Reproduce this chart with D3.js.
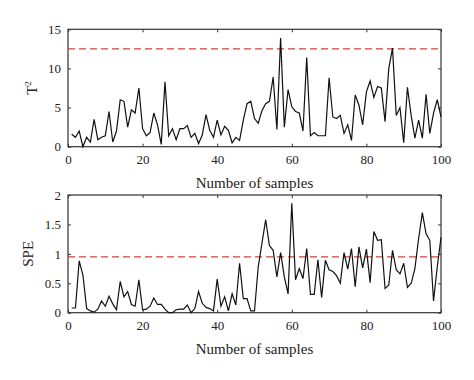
<!DOCTYPE html>
<html>
<head>
<meta charset="utf-8">
<script src="https://cdn.jsdelivr.net/npm/d3@7"></script>
<style>
  html, body { margin: 0; padding: 0; background: #fff; }
  svg { display: block; }
  text { font-family: "Liberation Serif", "DejaVu Serif", serif; fill: #222; }
</style>
</head>
<body>
<svg id="chart" width="474" height="380"></svg>
<script>
// ---- data ----
const samples = d3.range(1, 101);
const t2Values = [
  1.6, 1.2, 2.0, 0.0, 1.2, 0.6, 3.5, 0.9, 1.2, 1.4,
  4.5, 0.6, 2.0, 6.0, 5.8, 2.5, 4.7, 4.3, 7.5, 2.3,
  1.4, 1.8, 4.3, 2.8, 0.3, 8.3, 1.4, 2.3, 0.9, 2.3,
  2.3, 2.7, 1.2, 1.7, 0.4, 1.5, 4.1, 2.1, 1.2, 3.4,
  1.5, 2.6, 2.1, 0.5, 1.2, 0.8, 3.4, 5.5, 5.8, 3.6,
  3.0, 4.6, 5.5, 5.8, 8.9, 2.2, 13.9, 2.5, 7.3, 5.1,
  4.5, 4.3, 2.0, 11.4, 1.4, 1.8, 1.4, 1.4, 1.4, 8.8,
  3.8, 3.6, 4.0, 1.7, 2.8, 0.8, 6.6, 5.3, 2.8, 7.0,
  8.4, 6.3, 7.7, 7.5, 3.2, 10.0, 12.6, 4.0, 5.0, 0.5,
  7.6, 4.0, 1.1, 3.4, 1.1, 6.7, 1.7, 4.3, 6.0, 3.8
];
const speValues = [
  0.08, 0.08, 0.88, 0.64, 0.07, 0.03, 0.01, 0.06, 0.20, 0.11,
  0.28, 0.15, 0.05, 0.53, 0.27, 0.36, 0.14, 0.11, 0.56, 0.05,
  0.06, 0.11, 0.25, 0.14, 0.14, 0.06, 0.00, 0.00, 0.05, 0.06,
  0.06, 0.13, 0.00, 0.07, 0.36, 0.16, 0.09, 0.07, 0.03, 0.57,
  0.11, 0.27, 0.03, 0.32, 0.13, 0.84, 0.24, 0.24, 0.03, 0.03,
  0.78, 1.18, 1.58, 1.14, 1.06, 0.61, 1.02, 0.61, 0.32, 1.86,
  0.56, 0.75, 0.58, 1.09, 0.31, 0.31, 0.90, 0.26, 0.89, 0.73,
  0.70, 0.63, 0.50, 1.02, 0.74, 1.09, 0.44, 1.12, 0.76, 1.08,
  0.51, 1.38, 1.23, 1.24, 0.41, 0.47, 1.06, 0.73, 0.66, 0.84,
  0.43, 0.50, 0.75, 1.26, 1.70, 1.34, 1.23, 0.20, 0.78, 1.28
];
const t2Limit = 12.5;
const speLimit = 0.95;
const xTicks = [0, 20, 40, 60, 80, 100];
const t2Ticks = [0, 5, 10, 15];
const speTicks = [0, 0.5, 1, 1.5, 2];
const xTitle = "Number of samples";

// ---- drawing ----
const svg = d3.select("#chart");
const left = 68, right = 441;

function panel(top, bottom, values, limit, yDomain, yTicks, yFmt, yLabelNode) {
  const x = d3.scaleLinear().domain([0, 100]).range([left, right]);
  const y = d3.scaleLinear().domain(yDomain).range([bottom, top]);
  const g = svg.append("g");
  const tl = 3;

  // bottom axis (inward ticks)
  const xb = g.append("g").attr("transform", `translate(0,${bottom})`)
    .call(d3.axisBottom(x).tickValues(xTicks).tickSizeInner(-tl).tickSizeOuter(0).tickPadding(8));
  const xt = g.append("g").attr("transform", `translate(0,${top})`)
    .call(d3.axisTop(x).tickValues(xTicks).tickSizeInner(-tl).tickSizeOuter(0).tickFormat(""));
  const yl = g.append("g").attr("transform", `translate(${left},0)`)
    .call(d3.axisLeft(y).tickValues(yTicks).tickSizeInner(-tl).tickSizeOuter(0).tickPadding(7).tickFormat(yFmt));
  const yr = g.append("g").attr("transform", `translate(${right},0)`)
    .call(d3.axisRight(y).tickValues(yTicks).tickSizeInner(-tl).tickSizeOuter(0).tickFormat(""));
  [xb, xt, yl, yr].forEach(a => {
    a.select(".domain").remove();
    a.selectAll("line").attr("stroke", "#333").attr("stroke-width", 1);
    a.selectAll("text").attr("font-size", 13).attr("font-family", "Liberation Serif").attr("fill", "#222");
  });

  // frame
  g.append("rect").attr("x", left).attr("y", top)
    .attr("width", right - left).attr("height", bottom - top)
    .attr("fill", "none").attr("stroke", "#333").attr("stroke-width", 1.2);

  // threshold
  g.append("line")
    .attr("x1", x(0)).attr("x2", x(100))
    .attr("y1", y(limit)).attr("y2", y(limit))
    .attr("stroke", "#e8392f").attr("stroke-width", 1.3)
    .attr("stroke-dasharray", "7,4");

  // series line
  const line = d3.line().x((d, i) => x(samples[i])).y(d => y(d));
  g.append("path").datum(values)
    .attr("d", line).attr("fill", "none")
    .attr("stroke", "#111").attr("stroke-width", 1.2)
    .attr("stroke-linejoin", "miter");

  // x title
  g.append("text").attr("x", (left + right) / 2).attr("y", bottom + 41)
    .attr("text-anchor", "middle").attr("font-size", 15).text(xTitle);

  // y title
  const yt = g.append("text")
    .attr("transform", `translate(${yLabelNode.x},${(top + bottom) / 2}) rotate(-90)`)
    .attr("text-anchor", "middle").attr("font-size", 15);
  yLabelNode.fill(yt);
}

panel(29.3, 146.7, t2Values, t2Limit, [0, 15], t2Ticks, d3.format("d"), {
  x: 37,
  fill: t => {
    t.append("tspan").text("T");
    t.append("tspan").attr("font-size", 9).attr("dy", -6).text("2");
  }
});
panel(195, 312.7, speValues, speLimit, [0, 2], speTicks, d => String(d), {
  x: 33,
  fill: t => t.text("SPE")
});
</script>
</body>
</html>
